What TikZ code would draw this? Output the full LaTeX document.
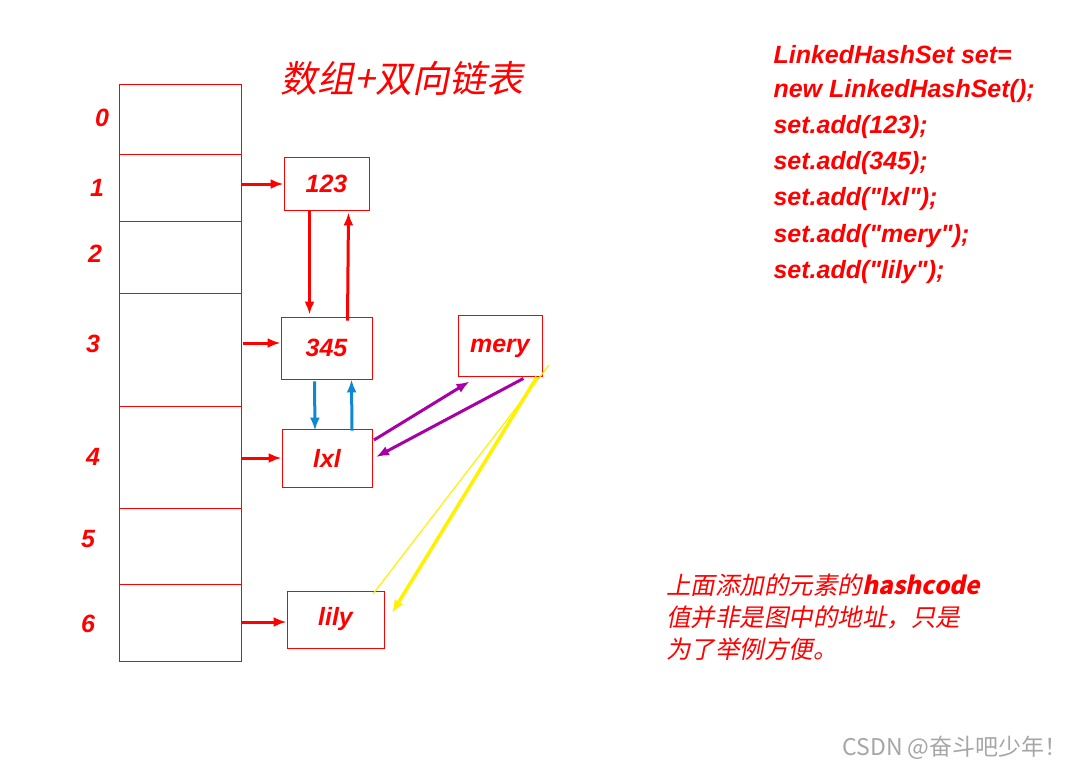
\documentclass[tikz,border=0pt]{standalone}
\usepackage{fontspec}
\setmainfont{Liberation Sans}
\newfontfamily\cjk[FakeSlant=0.2]{Noto Sans CJK SC}
\newfontfamily\cjkup{Noto Sans CJK SC}
\usetikzlibrary{arrows.meta}
\begin{document}
\begin{tikzpicture}[x=1pt,y=-1pt,
  cell/.style={draw=red,line width=0.9pt},
  idx/.style={text=red,font=\fontsize{25}{25}\selectfont\bfseries\itshape},
  elem/.style={draw=red,line width=0.9pt,text=red,font=\fontsize{25}{25}\selectfont\bfseries\itshape},
  ptr/.style={red,line width=3pt,-{Latex[length=13pt,width=10pt]}},
  bl/.style={cyan!70!blue,line width=3pt,-{Latex[length=13pt,width=10pt]}},
  pu/.style={violet!70!magenta,line width=3pt,-{Latex[length=13pt,width=10pt]}},
  ye/.style={yellow,-{Latex[length=13pt,width=10pt]}},
  code/.style={text=red,anchor=west,font=\fontsize{25}{25}\selectfont\bfseries\itshape}]
\useasboundingbox[fill=white] (0,0) rectangle (1080,769);
% array
\draw[cell] (119,84) rectangle (241,661);
\foreach \y in {154,221,293,406,508,584} \draw[cell] (119,\y) -- (241,\y);
\foreach \i/\x/\y in {0/102/118,1/97/188,2/95/254,3/93/344,4/93/457,5/88/539,6/88/624}
  \node[idx] (i\i) at (\x,\y) {\i};
\coordinate (c1) at (241,184); \coordinate (c3) at (243,343);
\coordinate (c4) at (241,458); \coordinate (c6) at (241,622);
% elements
\node[elem,minimum width=85pt,minimum height=53pt] (n123) at (326.5,183.5) {123};
\node[elem,minimum width=91pt,minimum height=62pt] (n345) at (326.5,348) {345};
\node[elem,minimum width=90pt,minimum height=58pt] (nlxl) at (327,458) {lxl};
\node[elem,minimum width=97pt,minimum height=57pt] (nlily) at (335.5,619.5) {lily};
\node[elem,minimum width=84pt,minimum height=61pt,text depth=0pt] (nmery) at (500,345.5) {mery};
\draw[ptr] (c1) -- (n123.west|-c1);
\draw[ptr] (c3) -- (n345.west|-c3);
\draw[ptr] (c4) -- (nlxl.west|-c4);
\draw[ptr] (c6) -- (nlily.west|-c6);
\draw[ptr] ([xshift=-17pt]n123.south) -- ([xshift=-17pt,yshift=2pt]n345.north);
\draw[ptr] ([xshift=21pt,yshift=-4pt]n345.north) -- ([xshift=22pt,yshift=-2pt]n123.south);
\draw[bl] ([xshift=-12pt,yshift=-2pt]n345.south) -- ([xshift=-12pt,yshift=-2pt]nlxl.north);
\draw[bl] ([xshift=25pt,yshift=-2pt]nlxl.north) -- ([xshift=25pt]n345.south);
\draw[pu] (374,440) -- ([xshift=12pt,yshift=-5pt]nmery.south west);
\draw[pu] ([xshift=-19pt,yshift=-2pt]nmery.south east) -- (376,457);
\draw[yellow,line width=1.2pt] (373,594) -- (549,365);
\draw[ye,line width=3.5pt] (537,377) -- (392,613);
% title & code
\node[text=red,font=\cjk\fontsize{37}{37}\selectfont] (title) at (402,78) {数组+双向链表};
\node[code] (l1) at (770,55) {LinkedHashSet set=};
\node[code] (l2) at (770,91) {new LinkedHashSet();};
\node[code] (l3) at (770,127) {set.add(123);};
\node[code] (l4) at (770,163) {set.add(345);};
\node[code] (l5) at (770,199) {set.add(\textquotedbl lxl\textquotedbl);};
\node[code] (l6) at (770,236) {set.add(\textquotedbl mery\textquotedbl);};
\node[code] (l7) at (770,272) {set.add(\textquotedbl lily\textquotedbl);};
\node[text=red,anchor=north west,align=left,font=\cjk\fontsize{24.5}{32}\selectfont,inner sep=0pt] (note) at (666,574)
  {上面添加的元素的\textbf{hashcode}\\值并非是图中的地址，只是\\为了举例方便。};
\node[text=gray!70,font=\cjkup\fontsize{23}{23}\selectfont] (wm) at (955,748) {CSDN @奋斗吧少年！};
\end{tikzpicture}
\end{document}
